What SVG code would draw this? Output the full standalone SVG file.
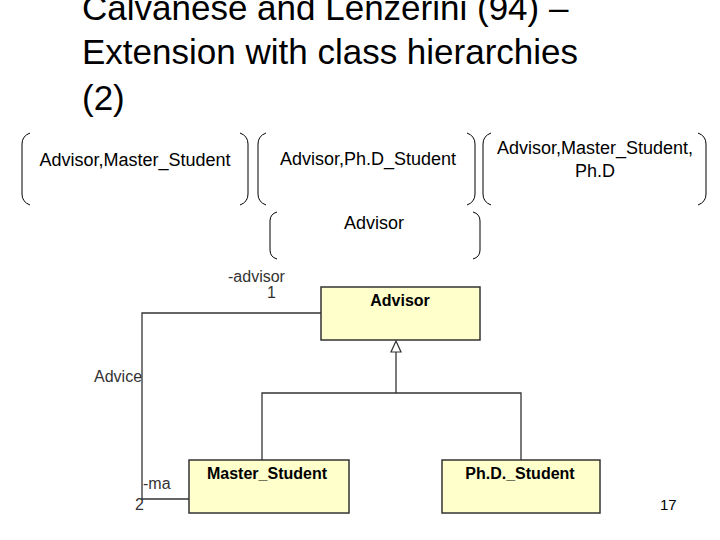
<svg xmlns="http://www.w3.org/2000/svg" width="720" height="540" viewBox="0 0 720 540">
<style>
.t{font-family:"Liberation Sans",Arial,sans-serif;fill:#000}
.br{fill:none;stroke:#000;stroke-width:1}
.box{fill:#ffffcc;stroke:#333;stroke-width:1.5}
.ln{fill:none;stroke:#333;stroke-width:1.3}
.b{font-family:"Liberation Sans",Arial,sans-serif;font-weight:bold;font-size:16px}
.s{font-family:"Liberation Sans",Arial,sans-serif;font-size:16px;fill:#333}
</style>
<rect width="720" height="540" fill="#fff"/>
<text class="t" x="82" y="20" font-size="35">Calvanese and Lenzerini (94) –</text>
<text class="t" x="82" y="64" font-size="35">Extension with class hierarchies</text>
<text class="t" x="82" y="110" font-size="35">(2)</text>
<g id="set1">
<path class="br" d="M30,133 Q22,136 22,144 L22,194 Q22,202 30,205"/>
<path class="br" d="M240,133 Q248,136 248,144 L248,194 Q248,202 240,205"/>
<text class="t" x="135" y="166" font-size="18" text-anchor="middle">Advisor,Master_Student</text>
</g>
<g id="set2">
<path class="br" d="M266,133 Q258,136 258,144 L258,194 Q258,202 266,205"/>
<path class="br" d="M467,133 Q475,136 475,144 L475,194 Q475,202 467,205"/>
<text class="t" x="368" y="165" font-size="18" text-anchor="middle">Advisor,Ph.D_Student</text>
</g>
<g id="set3">
<path class="br" d="M491,133 Q483,136 483,144 L483,194 Q483,202 491,205"/>
<path class="br" d="M698,133 Q706,136 706,144 L706,194 Q706,202 698,205"/>
<text class="t" x="595" y="154" font-size="18" text-anchor="middle">Advisor,Master_Student,</text>
<text class="t" x="595" y="177" font-size="18" text-anchor="middle">Ph.D</text>
</g>
<g id="set4">
<path class="br" d="M277,212 Q270,214 270,221 L270,250 Q270,257 277,259"/>
<path class="br" d="M473,212 Q480,214 480,221 L480,250 Q480,257 473,259"/>
<text class="t" x="374" y="229" font-size="18" text-anchor="middle">Advisor</text>
</g>
<g id="connectors">
<path class="ln" d="M321,313 H142 V499 H189"/>
<path class="ln" d="M396,352 V393 M262,460 V393 H521 V460"/>
<path d="M396,341 L391,352 H401 Z" fill="#fff" stroke="#333" stroke-width="1.2"/>
<text class="s" x="228" y="282">-advisor</text>
<text class="s" x="267" y="298">1</text>
<text class="s" x="94" y="382">Advice</text>
<text class="s" x="143" y="489">-ma</text>
<text class="s" x="135" y="510">2</text>
</g>
<g id="advisor">
<rect class="box" x="321" y="287" width="159" height="53"/>
<text class="b" x="400" y="306" text-anchor="middle">Advisor</text>
</g>
<g id="master">
<rect class="box" x="189" y="460" width="160" height="53"/>
<text class="b" x="267" y="479" text-anchor="middle">Master_Student</text>
</g>
<g id="phd">
<rect class="box" x="442" y="460" width="158" height="53"/>
<text class="b" x="520" y="479" text-anchor="middle">Ph.D._Student</text>
</g>
<text class="t" x="660" y="510" font-size="15">17</text>
</svg>
